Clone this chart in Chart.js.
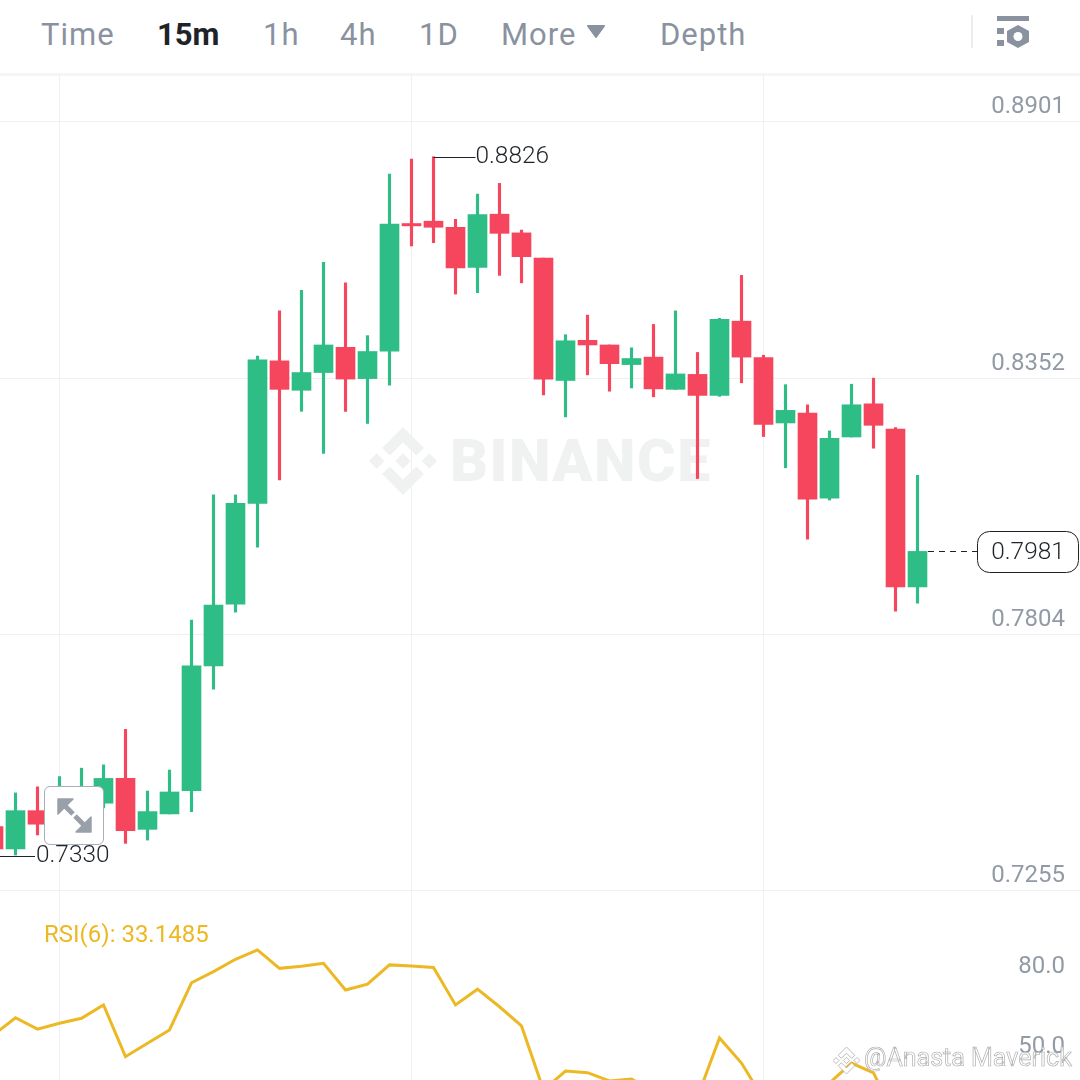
<!DOCTYPE html>
<html>
<head>
<meta charset="utf-8">
<title>15m candles</title>
<script src="https://cdn.jsdelivr.net/npm/chart.js@4/dist/chart.umd.min.js"></script>
<style>
  html, body { margin: 0; padding: 0; background: #fff; }
  #page { position: relative; width: 1080px; height: 1080px; overflow: hidden; background: #fff; font-family: Roboto, sans-serif; }
  canvas { position: absolute; left: 0; z-index: 1; }
  #chartHarga { top: 75px; }
  #chartRsi { top: 891px; }
  .tab { position: absolute; top: 15px; line-height: 40px; font-size: 31px; color: #8a929f; letter-spacing: 1px; white-space: nowrap; }
  .tab.aktif { color: #1e2329; font-weight: 700; letter-spacing: 0; }
  #garisAtas { position: absolute; left: 0; top: 73px; width: 1080px; height: 3px; background: #f5f5f5; }
  #pemisah { position: absolute; left: 971px; top: 15px; width: 2px; height: 33px; background: #eaecef; }
  #wmLogo { position: absolute; left: 369px; top: 427px; width: 68px; height: 68px; z-index: 0; }
  #wmTeks { position: absolute; left: 450px; top: 425px; line-height: 72px; font-size: 59px; font-weight: 900; letter-spacing: 1.5px; color: #f0f1f1; z-index: 0; }
  #tombol { position: absolute; left: 44px; top: 786px; width: 58px; height: 57px; border: 1.5px solid #a9afb8; border-radius: 6px; background: #fff; z-index: 2; }
  #tandaLogo { position: absolute; left: 833px; top: 1047px; width: 27px; height: 27px; z-index: 3; }
  #tandaTeks { position: absolute; left: 864px; top: 1042px; line-height: 32px; font-size: 25px; color: rgba(255,255,255,0.75); -webkit-text-stroke: 0.7px #b0b0b0; white-space: nowrap; z-index: 3; }
</style>
</head>
<body>
<div id="page">
  <span class="tab" style="left:41px">Time</span>
  <span class="tab aktif" style="left:157px">15m</span>
  <span class="tab" style="left:263px">1h</span>
  <span class="tab" style="left:340px">4h</span>
  <span class="tab" style="left:419px">1D</span>
  <span class="tab" style="left:501px">More</span>
  <svg style="position:absolute;left:586px;top:24px" width="20" height="14"><path d="M2 2H18L10 13Z" fill="#8a929f" stroke="#8a929f" stroke-width="2" stroke-linejoin="round"/></svg>
  <span class="tab" style="left:660px">Depth</span>
  <div id="pemisah"></div>
  <svg style="position:absolute;left:996px;top:15px" width="36" height="35">
    <rect x="1" y="1" width="32" height="5" fill="#8a929f"/>
    <rect x="1" y="13" width="7" height="6" fill="#8a929f"/>
    <rect x="1" y="25" width="7" height="6" fill="#8a929f"/>
    <path d="M22 10L33 16V27L22 33L11 27V16Z" fill="#8a929f"/>
    <circle cx="22" cy="21.5" r="4.5" fill="#fff"/>
  </svg>
  <div id="garisAtas"></div>

  <svg id="wmLogo" viewBox="0 0 126.61 126.61"><g fill="#f0f1f1"><path d="M38.73 53.2l24.59-24.58 24.6 24.6 14.3-14.31L63.32 0 24.42 38.9zM0 63.31l14.3-14.31 14.31 14.31-14.31 14.3zM38.73 73.41l24.59 24.59 24.6-24.6 14.31 14.29-38.9 38.91-38.91-38.88-.02-.02zM98 63.31l14.3-14.31 14.31 14.3-14.31 14.32z"/><path d="M77.83 63.3L63.32 48.78 48.81 63.28l14.51 14.5z"/></g></svg>
  <div id="wmTeks">BINANCE</div>

  <canvas id="chartHarga" width="1080" height="816"></canvas>
  <canvas id="chartRsi" width="1080" height="189"></canvas>

  <div id="tombol">
    <svg width="58" height="57" style="position:absolute;left:0;top:0">
      <g fill="#9aa0aa" stroke="#9aa0aa" stroke-linejoin="round">
        <path d="M13 12H28L13 27Z" stroke-width="1.5"/>
        <path d="M46 45H31L46 30Z" stroke-width="1.5"/>
        <path d="M19 18L28 27M30 29L40 39" fill="none" stroke-width="5"/>
      </g>
    </svg>
  </div>

  <svg id="tandaLogo" viewBox="0 0 126.61 126.61"><g fill="#fff" stroke="#b0b0b0" stroke-width="4"><path d="M38.73 53.2l24.59-24.58 24.6 24.6 14.3-14.31L63.32 0 24.42 38.9zM0 63.31l14.3-14.31 14.31 14.31-14.31 14.3zM38.73 73.41l24.59 24.59 24.6-24.6 14.31 14.29-38.9 38.91-38.91-38.88-.02-.02zM98 63.31l14.3-14.31 14.31 14.3-14.31 14.32z"/><path d="M77.83 63.3L63.32 48.78 48.81 63.28l14.51 14.5z"/></g></svg>
  <div id="tandaTeks">@Anasta Maverick</div>
</div>

<script>
// data candle
const opens  = [0.7392, 0.7344, 0.7426, 0.7417, 0.7442, 0.7442, 0.7495, 0.7386, 0.7419, 0.7469, 0.7736, 0.7868, 0.8084, 0.8389, 0.8326, 0.8364, 0.8418, 0.8351, 0.8410, 0.8683, 0.8688, 0.8675, 0.8589, 0.8703, 0.8663, 0.8609, 0.8347, 0.8433, 0.8423, 0.8381, 0.8397, 0.8328, 0.8360, 0.8315, 0.8474, 0.8396, 0.8256, 0.8277, 0.8095, 0.8226, 0.8297, 0.8243, 0.7905];
const closes = [0.7344, 0.7426, 0.7397, 0.7449, 0.7470, 0.7495, 0.7383, 0.7424, 0.7466, 0.7736, 0.7866, 0.8084, 0.8391, 0.8328, 0.8364, 0.8423, 0.8350, 0.8409, 0.8682, 0.8678, 0.8675, 0.8588, 0.8702, 0.8662, 0.8612, 0.8350, 0.8432, 0.8423, 0.8383, 0.8394, 0.8329, 0.8361, 0.8315, 0.8478, 0.8397, 0.8253, 0.8283, 0.8093, 0.8223, 0.8295, 0.8251, 0.7905, 0.7981];
const highs  = [0.7417, 0.7464, 0.7477, 0.7499, 0.7517, 0.7524, 0.7600, 0.7468, 0.7513, 0.7834, 0.8102, 0.8102, 0.8399, 0.8496, 0.8540, 0.8600, 0.8556, 0.8443, 0.8789, 0.8821, 0.8826, 0.8692, 0.8746, 0.8769, 0.8669, 0.8609, 0.8445, 0.8487, 0.8423, 0.8417, 0.8467, 0.8496, 0.8407, 0.8480, 0.8572, 0.8401, 0.8338, 0.8295, 0.8239, 0.8339, 0.8352, 0.8246, 0.8144];
const lows   = [0.7330, 0.7331, 0.7374, 0.7395, 0.7417, 0.7432, 0.7356, 0.7363, 0.7419, 0.7424, 0.7686, 0.7851, 0.7990, 0.8134, 0.8281, 0.8191, 0.8281, 0.8255, 0.8337, 0.8635, 0.8642, 0.8532, 0.8535, 0.8572, 0.8556, 0.8316, 0.8269, 0.8359, 0.8324, 0.8331, 0.8312, 0.8328, 0.8137, 0.8313, 0.8342, 0.8227, 0.8160, 0.8007, 0.8091, 0.8226, 0.8202, 0.7853, 0.7870];
const rsiValues = [60.1, 66.6, 62.3, 64.5, 66.4, 71.4, 52.0, 57.0, 62.0, 79.7, 83.9, 88.5, 92.0, 85.1, 85.9, 87.0, 77.0, 79.2, 86.4, 86.0, 85.4, 71.4, 77.3, 70.7, 63.5, 39.5, 46.6, 46.0, 42.9, 43.6, 38.8, 41.0, 36.9, 59.0, 49.6, 36.1, 38.8, 33.0, 42.1, 49.6, 45.9, 29.4, 33.1];

// label sumbu
const priceTicks = [0.8901, 0.8352, 0.7804, 0.7255];
const rsiTicks = [80, 50];
const timeGridCandles = [3, 19, 35];
const highIndex = 20;
const lowIndex = 0;
const lastIndex = 42;
const rsiLabel = 'RSI(6): 33.1485';

const warnaHijau = '#2ebd85';
const warnaMerah = '#f6465d';
const warnaGrid = '#eef0f2';
const warnaTick = '#929aa5';
const warnaGelap = '#1e2329';
const warnaKuning = '#ecb823';
const fontHarga = '300 24.4px Roboto, sans-serif';

Chart.defaults.font.family = 'Roboto, sans-serif';
Chart.defaults.animation = false;

const warnaCandle = ctx => closes[ctx.dataIndex] >= opens[ctx.dataIndex] ? warnaHijau : warnaMerah;

// buang padding bawaan biar area chart full ke pinggir canvas
const tanpaPadding = scale => {
  scale.paddingTop = 0;
  scale.paddingBottom = 0;
  scale.paddingLeft = 0;
  scale.paddingRight = 0;
};

// sumbu y nempel di dalam chart, lebarnya nol
const sumbuYFit = scale => {
  tanpaPadding(scale);
  scale.width = 0;
};

// sumbu x sama untuk dua panel, 1 candle = 22px
const sumbuX = () => ({
  type: 'linear',
  offset: false,
  min: 0.2955,
  max: 49.3864,
  border: { display: false },
  grid: { offset: false, color: warnaGrid, lineWidth: 1, drawTicks: false },
  ticks: { display: false },
  afterBuildTicks: scale => { scale.ticks = timeGridCandles.map(value => ({ value })); },
  afterFit: tanpaPadding
});

// tulisan harga + garis penunjuk di atas candle
const labelHarga = {
  id: 'labelHarga',
  afterDatasetsDraw(chart) {
    const { ctx, scales: { x, y } } = chart;
    ctx.save();
    ctx.font = fontHarga;
    ctx.textBaseline = 'middle';
    ctx.strokeStyle = warnaGelap;
    ctx.fillStyle = warnaGelap;
    ctx.lineWidth = 1;

    // high tertinggi
    const hx = x.getPixelForValue(highIndex);
    const hy = Math.round(y.getPixelForValue(highs[highIndex])) + 0.5;
    ctx.beginPath();
    ctx.moveTo(hx, hy);
    ctx.lineTo(hx + 42, hy);
    ctx.stroke();
    ctx.textAlign = 'left';
    ctx.fillText(highs[highIndex].toFixed(4), hx + 42, hy - 1);

    // low terendah
    const ly = Math.round(y.getPixelForValue(lows[lowIndex])) + 0.5;
    ctx.beginPath();
    ctx.moveTo(0, ly);
    ctx.lineTo(35, ly);
    ctx.stroke();
    ctx.fillText(lows[lowIndex].toFixed(4), 36, ly - 1);

    // harga terakhir
    const cx = x.getPixelForValue(lastIndex) + 10.5;
    const cy = Math.round(y.getPixelForValue(closes[lastIndex])) + 0.5;
    ctx.setLineDash([6, 5]);
    ctx.beginPath();
    ctx.moveTo(cx, cy);
    ctx.lineTo(977, cy);
    ctx.stroke();
    ctx.setLineDash([]);
    ctx.fillStyle = '#fff';
    ctx.beginPath();
    ctx.roundRect(977.5, cy - 20, 101, 41, 12);
    ctx.fill();
    ctx.stroke();
    ctx.fillStyle = warnaGelap;
    ctx.textAlign = 'center';
    ctx.fillText(closes[lastIndex].toFixed(4), 1028, cy + 1.5);
    ctx.restore();
  }
};

new Chart(document.getElementById('chartHarga'), {
  type: 'bar',
  data: {
    datasets: [
      {
        label: 'Wick',
        data: lows.map((low, i) => ({ x: i, y: [low, highs[i]] })),
        backgroundColor: warnaCandle,
        barThickness: 2.5,
        grouped: false,
        order: 2
      },
      {
        label: 'Body',
        data: opens.map((open, i) => ({ x: i, y: [open, closes[i]] })),
        backgroundColor: warnaCandle,
        barThickness: 19,
        grouped: false,
        order: 1
      }
    ]
  },
  options: {
    responsive: false,
    plugins: { legend: { display: false }, tooltip: { enabled: false } },
    scales: {
      x: sumbuX(),
      y: {
        position: 'right',
        min: 0.7254,
        max: 0.9001,
        border: { display: false },
        grid: { color: warnaGrid, lineWidth: 1, drawTicks: false },
        afterBuildTicks: scale => { scale.ticks = priceTicks.map(value => ({ value })); },
        afterFit: sumbuYFit,
        ticks: {
          mirror: true,
          padding: -15,
          labelOffset: -14.5,
          autoSkip: false,
          color: warnaTick,
          font: { size: 24 },
          callback: value => value.toFixed(4)
        }
      }
    }
  },
  plugins: [labelHarga]
});

// judul RSI di pojok kiri panel
const judulRsi = {
  id: 'judulRsi',
  afterDatasetsDraw(chart) {
    const { ctx } = chart;
    ctx.save();
    ctx.font = '24px Roboto, sans-serif';
    ctx.fillStyle = warnaKuning;
    ctx.textBaseline = 'middle';
    ctx.fillText(rsiLabel, 44, 44.5);
    ctx.restore();
  }
};

new Chart(document.getElementById('chartRsi'), {
  type: 'line',
  data: {
    datasets: [{
      label: 'RSI(6)',
      data: rsiValues.map((value, i) => ({ x: i, y: value })),
      borderColor: warnaKuning,
      borderWidth: 3,
      pointRadius: 0,
      tension: 0
    }]
  },
  options: {
    responsive: false,
    plugins: { legend: { display: false }, tooltip: { enabled: false } },
    scales: {
      x: sumbuX(),
      y: {
        position: 'right',
        min: 43.25,
        max: 114.1,
        border: { display: false },
        grid: { display: false, drawTicks: false },
        afterBuildTicks: scale => { scale.ticks = rsiTicks.map(value => ({ value })); },
        afterFit: sumbuYFit,
        ticks: {
          mirror: true,
          padding: -15,
          labelOffset: -14.5,
          autoSkip: false,
          color: warnaTick,
          font: { size: 24 },
          callback: value => value.toFixed(1)
        }
      }
    }
  },
  plugins: [judulRsi]
});
</script>
</body>
</html>
